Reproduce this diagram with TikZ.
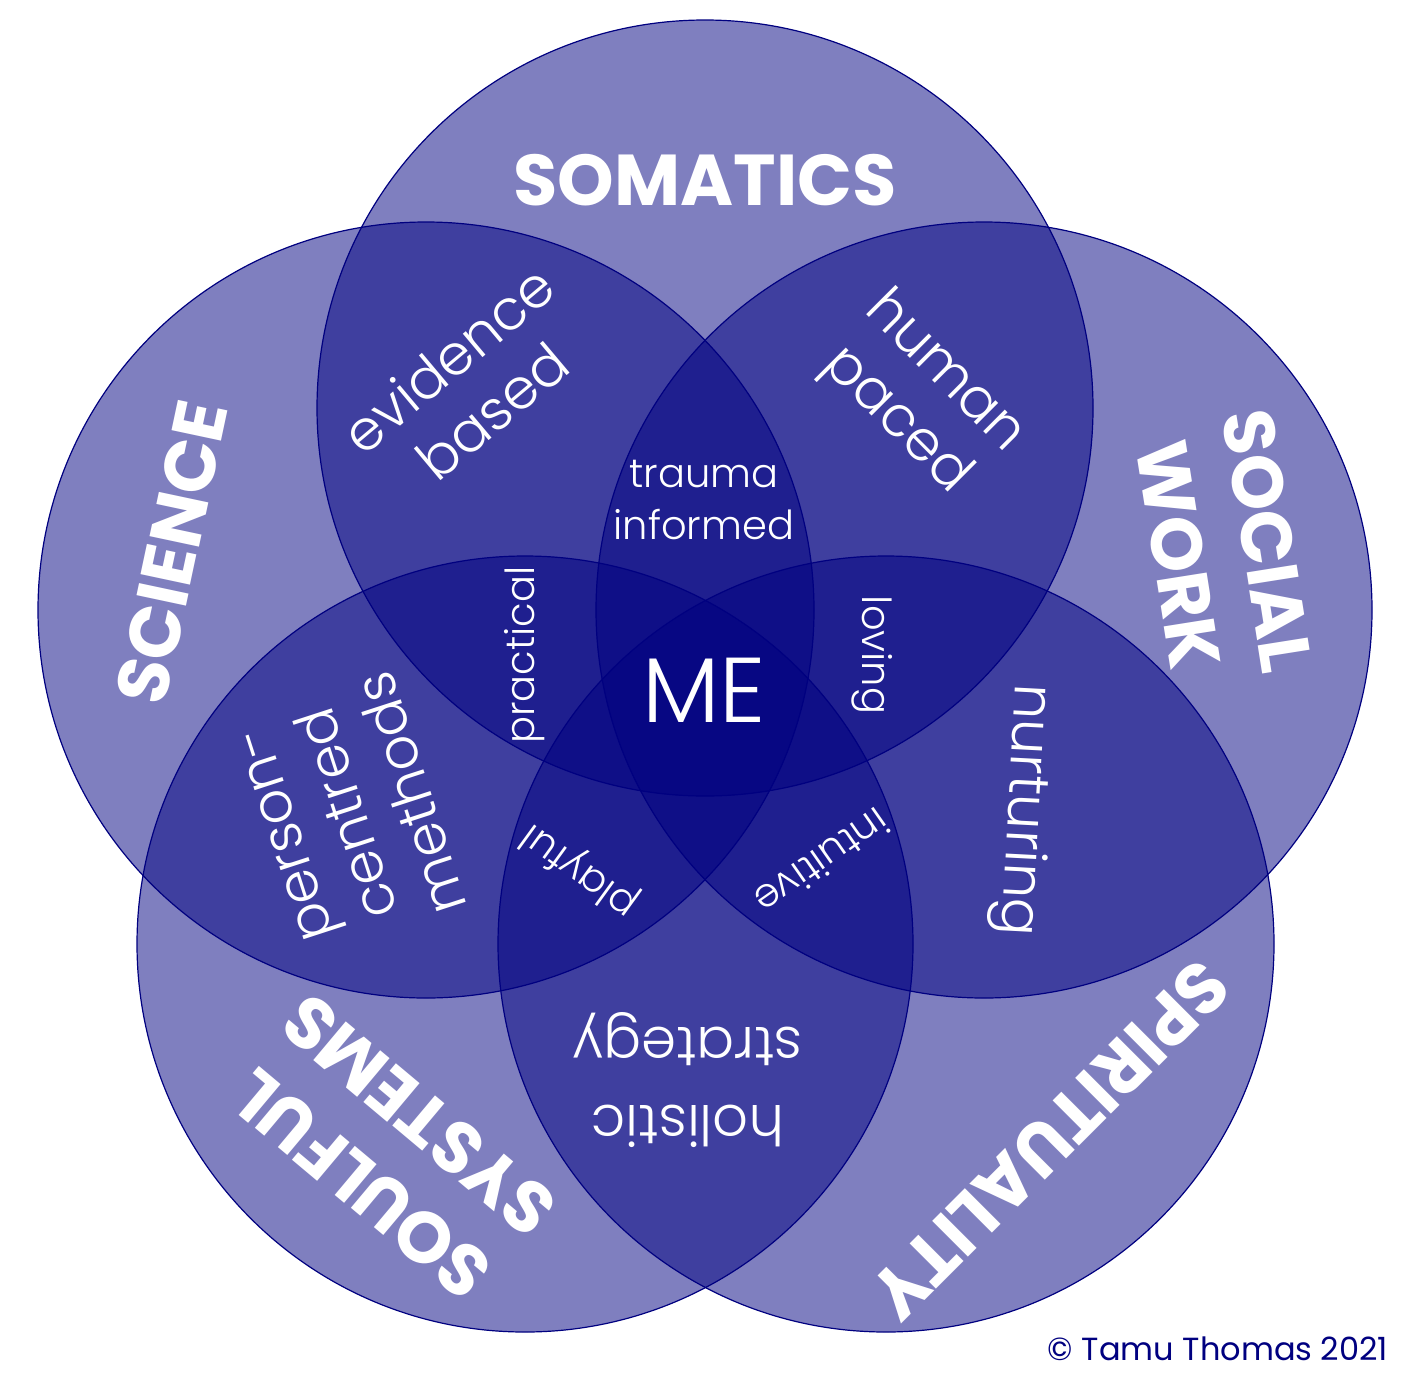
\documentclass[tikz,border=0pt]{standalone}
\usepackage{fontspec}
\setmainfont{Poppins}
\IfFontExistsTF{Poppins Light}{\newfontfamily\lightf{Poppins Light}}{\newfontfamily\lightf{Poppins}}
\definecolor{navyc}{HTML}{000080}
\begin{document}
\begin{tikzpicture}[x=0.5pt,y=-0.5pt,
  venn/.style={fill=navyc, fill opacity=0.5, draw=navyc, draw opacity=1, line width=0.6pt},
  big/.style={text=white, font=\bfseries\fontsize{36}{45}\selectfont, align=center, inner sep=0pt},
  small/.style={text=white, font=\lightf\fontsize{20}{26}\selectfont, align=center, inner sep=0pt},
  mid/.style={text=white, font=\lightf\fontsize{28}{34}\selectfont, align=center, inner sep=0pt}]
\useasboundingbox (0,0) rectangle (1407,1392);
\fill[white] (0,0) rectangle (1407,1392);
% circles
\coordinate (cT) at (705,408);
\coordinate (cL) at (426,610);
\coordinate (cR) at (984,610);
\coordinate (cBL) at (525,944);
\coordinate (cBR) at (886,944);
\path[venn] (cT) circle [radius=388];
\path[venn] (cL) circle [radius=388];
\path[venn] (cR) circle [radius=388];
\path[venn] (cBL) circle [radius=388];
\path[venn] (cBR) circle [radius=388];
% main labels
\node[big] (somatics) at (705,180) {SOMATICS};
\node[big, rotate=78] (science) at (172,552) {SCIENCE};
\node[big, rotate=-81] (social) at (1223,548) {SOCIAL\\WORK};
\node[big, rotate=140] (soulful) at (390,1150) {SOULFUL\\SYSTEMS};
\node[big, rotate=225] (spirit) at (1050,1140) {SPIRITUALITY};
% overlap labels
\node[mid, rotate=40] (evidence) at (470,385) {evidence\\based};
\node[mid, rotate=-45] (human) at (920,397) {human\\paced};
\node[small] (trauma) at (704,500) {trauma\\informed};
\node[small, rotate=90] (practical) at (525,655) {practical};
\node[small, rotate=-90] (loving) at (872,655) {loving};
\node[mid, rotate=108] (person) at (350,813) {person-\\centred\\methods};
\node[small, rotate=144] (playful) at (580,870) {playful};
\node[small, rotate=215] (intuitive) at (822,862) {intuitive};
\node[mid, rotate=-93] (nurturing) at (1022,810) {nurturing};
\node[mid, rotate=180, font=\lightf\fontsize{28}{39}\selectfont] (holistic) at (688,1080) {holistic\\strategy};
\node[text=white, font=\lightf\fontsize{46}{50}\selectfont, inner sep=0pt] (me) at (704,690) {ME};
\node[text=navyc, font=\fontsize{16}{19}\selectfont, inner sep=0pt] (copy) at (1218,1349) {© Tamu Thomas 2021};
\end{tikzpicture}
\end{document}
